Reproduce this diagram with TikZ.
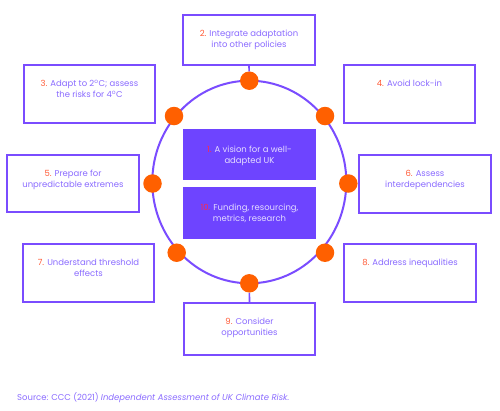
\documentclass[tikz,border=0pt]{standalone}
\usepackage{fontspec}
\setmainfont{Poppins}
\definecolor{pline}{HTML}{7A4CFF}
\definecolor{pfill}{HTML}{6E44FF}
\definecolor{ptext}{HTML}{8B6CFF}
\definecolor{onum}{HTML}{FF5A36}
\definecolor{rnum}{HTML}{FF2A4A}
\definecolor{ltext}{HTML}{E4DCFF}
\definecolor{dotc}{HTML}{FF6000}
\tikzset{
  box/.style={draw=pline, line width=2bp, rectangle, inner sep=0pt},
  cbox/.style={fill=pfill, rectangle, inner sep=0pt},
  txt/.style={text=ptext, align=center, inner sep=0pt, font=\fontsize{8.5}{11}\selectfont},
  ctxt/.style={text=ltext, align=center, inner sep=0pt, font=\fontsize{8.5}{11}\selectfont},
  dot/.style={circle, fill=dotc, minimum size=18.5bp, inner sep=0pt},
  ring/.style={draw=pline, line width=2bp},
  link/.style={draw=pline, line width=1.6bp}
}
\begin{document}
\begin{tikzpicture}[x=1bp,y=-1bp]
\useasboundingbox[fill=white] (0,0) rectangle (500,410);
% ring
\draw[ring] (249.3,182) ellipse [x radius=97, y radius=101.3];
% boxes
\node[box, minimum width=132bp, minimum height=50bp] (b2) at (249,40) {};
\node[box, minimum width=131bp, minimum height=58bp] (b3) at (89.5,94) {};
\node[box, minimum width=131bp, minimum height=58bp] (b4) at (409.5,94) {};
\node[box, minimum width=132bp, minimum height=57bp] (b5) at (73,183.5) {};
\node[box, minimum width=132bp, minimum height=58bp] (b6) at (425,184) {};
\node[box, minimum width=131bp, minimum height=58bp] (b7) at (88.5,273) {};
\node[box, minimum width=132bp, minimum height=58bp] (b8) at (410,273) {};
\node[box, minimum width=131bp, minimum height=52bp] (b9) at (249.5,329) {};
\node[cbox, minimum width=133bp, minimum height=51bp] (c1) at (249.5,154.5) {};
\node[cbox, minimum width=133bp, minimum height=52bp] (c10) at (249.5,213) {};
% dots
\node[dot] (d2) at (249.3,80.7) {};
\node[dot] (d3) at (174,116) {};
\node[dot] (d4) at (325,116) {};
\node[dot] (d5) at (152.5,183.5) {};
\node[dot] (d6) at (348.3,183.5) {};
\node[dot] (d7) at (176.7,252.7) {};
\node[dot] (d8) at (325,252.7) {};
\node[dot] (d9) at (249.3,283.3) {};
% links
\draw[link] (b2.south) -- (d2);
\draw[link] (b9.north) -- (d9);
% texts
\node[txt, anchor=north] (t2) at ([yshift=-16bp]b2.north) {\textcolor{onum}{2.} Integrate adaptation\\into other policies};
\node[txt, anchor=north] (t3) at ([yshift=-16bp]b3.north) {\textcolor{onum}{3.} Adapt to 2\textsuperscript{o}C; assess\\the risks for 4\textsuperscript{o}C};
\node[txt, anchor=north] (t4) at ([yshift=-16bp]b4.north) {\textcolor{onum}{4.} Avoid lock-in};
\node[txt, anchor=north] (t5) at ([yshift=-16bp]b5.north) {\textcolor{onum}{5.} Prepare for\\unpredictable extremes};
\node[txt, anchor=north] (t6) at ([yshift=-16bp]b6.north) {\textcolor{onum}{6.} Assess\\interdependencies};
\node[txt, anchor=north] (t7) at ([yshift=-16bp]b7.north) {\textcolor{onum}{7.} Understand threshold\\effects};
\node[txt, anchor=north] (t8) at ([yshift=-16bp]b8.north) {\textcolor{onum}{8.} Address inequalities};
\node[txt, anchor=north] (t9) at ([yshift=-16bp]b9.north) {\textcolor{onum}{9.} Consider\\opportunities};
\node[ctxt, anchor=north] (t1) at ([yshift=-17bp]c1.north) {\textcolor{rnum}{1.} A vision for a well-\\adapted UK};
\node[ctxt, anchor=north] (t10) at ([yshift=-17bp]c10.north) {\textcolor{rnum}{10.} Funding, resourcing,\\metrics, research};
% source
\node[txt, anchor=west] (src) at (17,398) {Source: CCC (2021) \textit{Independent Assessment of UK Climate Risk.}};
\end{tikzpicture}
\end{document}
